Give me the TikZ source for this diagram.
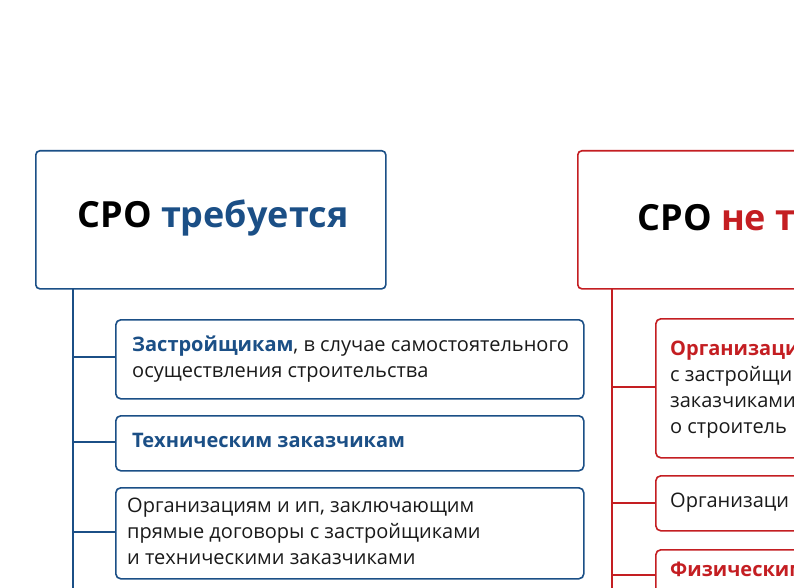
\documentclass[tikz,border=0pt]{standalone}
\usepackage{fontspec}
\setmainfont{Open Sans}
\definecolor{cblue}{HTML}{1B4F86}
\definecolor{cred}{HTML}{C41E22}
\definecolor{ctext}{HTML}{1A1A1A}
\begin{document}
\begin{tikzpicture}[x=1pt,y=-1pt,
  hdr/.style={draw,line width=1.6pt,rounded corners=4pt,minimum height=138pt,anchor=north west,inner sep=0pt},
  item/.style={draw,line width=1.6pt,rounded corners=5pt,anchor=north west,inner sep=0pt},
  txt/.style={anchor=north west,align=left,font=\fontsize{20}{26}\selectfont,text=ctext,inner sep=0pt},
  tree/.style={line width=1.6pt}]
\useasboundingbox (0,0) rectangle (794,588);
\clip (0,0) rectangle (794,588);
\fill[white] (0,0) rectangle (794,588);
% left
\node[hdr,cblue,minimum width=350pt] (lh) at (35,150) {};
\node[font=\bfseries\fontsize{36}{40}\selectfont,text=black] (lt) at (213,218) {СРО \textcolor{cblue}{требуется}};
\node[item,cblue,minimum width=468pt,minimum height=79pt] (l1) at (115,319) {};
\node[item,cblue,minimum width=468pt,minimum height=55pt] (l2) at (115,415) {};
\node[item,cblue,minimum width=468pt,minimum height=91pt] (l3) at (115,487) {};
\node[txt] (t1) at (132,336) {\textcolor{cblue}{\bfseries Застройщикам}, в случае самостоятельного\\осуществления строительства};
\node[txt] (t2) at (132,433) {\textcolor{cblue}{\bfseries Техническим заказчикам}};
\node[txt] (t3) at (127,498) {Организациям и ип, заключающим\\прямые договоры с застройщиками\\и техническими заказчиками};
\draw[tree,cblue] (73,288) -- (73,588);
\foreach \n/\y in {l1/357,l2/442,l3/532} \draw[tree,cblue] (73,\y) -- (\n.west |- 0,\y);
% right
\node[hdr,cred,minimum width=400pt] (rh) at (577,150) {};
\node[font=\bfseries\fontsize{36}{40}\selectfont,text=black,anchor=west] (rt) at (634,218) {СРО \textcolor{cred}{не т}};
\node[item,cred,minimum width=300pt,minimum height=139pt] (r1) at (655,318) {};
\node[item,cred,minimum width=300pt,minimum height=55pt] (r2) at (655,475) {};
\node[item,cred,minimum width=300pt,minimum height=60pt] (r3) at (655,549) {};
\node[txt] (rt1) at (670,341) {\textcolor{cred}{\bfseries Организаци}\\с застройщи\\заказчиками\\о строитель};
\node[txt] (rt2) at (670,493) {Организаци};
\node[txt] (rt3) at (670,562) {\textcolor{cred}{\bfseries Физическим}};
\draw[tree,cred] (612,288) -- (612,588);
\foreach \n/\y in {r1/387,r2/503,r3/575} \draw[tree,cred] (612,\y) -- (\n.west |- 0,\y);
\end{tikzpicture}
\end{document}
